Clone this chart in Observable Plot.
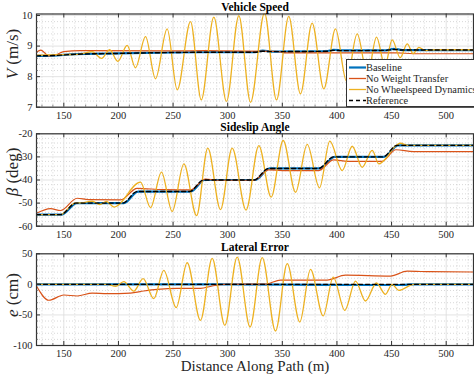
<!DOCTYPE html>
<html><head><meta charset="utf-8">
<script src="https://cdn.jsdelivr.net/npm/d3@7"></script>
<script src="https://cdn.jsdelivr.net/npm/@observablehq/plot@0.6"></script>
<style>
body{margin:0;background:#fff;}
#fig{position:relative;width:474px;height:374px;overflow:hidden;font-family:'Liberation Serif','Times New Roman',Tinos,'DejaVu Serif',serif;color:#262626;}
.panel{position:absolute;left:0;}
.ylab{position:absolute;font-size:17px;white-space:nowrap;transform:translate(-50%,-50%) rotate(-90deg);}
.xlab{position:absolute;font-size:15px;white-space:nowrap;transform:translate(-50%,-50%);}
#legend{position:absolute;left:346px;top:59px;width:140px;height:46px;border:1px solid #333;background:#fff;font-size:10.4px;}
.lrow{position:absolute;left:0;height:11px;line-height:11px;white-space:nowrap;}
.lrow svg{position:absolute;left:2px;top:0;}
.lrow span{position:absolute;left:19px;top:0;}
</style></head><body><div id="fig"></div>
<script>
// ---- shared axis data ----
const xDomain = [125, 525];
const xTicks = [150, 200, 250, 300, 350, 400, 450, 500];
const seriesNames = ["Baseline", "No Weight Transfer", "No Wheelspeed Dynamics", "Reference"];
const seriesColors = ["#0072BD", "#D95319", "#EDB120", "#000000"];
const FONT = "'Liberation Serif','Times New Roman',Tinos,'DejaVu Serif',serif";

// ---- Vehicle Speed (m/s) ----
const speedTicks = [7, 8, 9, 10];
const speedReference = [[125,8.68],[140,8.69],[160,8.73],[200,8.76],[250,8.79],[300,8.80],[325,8.80],[332,8.83],[340,8.82],[390,8.83],[397,8.86],[405,8.85],[445,8.86],[452,8.89],[460,8.87],[525,8.87]];
const speedBaseline = [[125,8.68],[140,8.69],[160,8.74],[200,8.76],[250,8.79],[300,8.80],[325,8.80],[332,8.85],[340,8.82],[390,8.83],[397,8.88],[405,8.86],[445,8.86],[452,8.91],[460,8.87],[525,8.87]];
const speedNoWeightTransfer = [[125,8.80],[129,8.87],[136,8.68],[143,8.72],[150,8.82],[165,8.85],[250,8.84],[280,8.85],[300,8.84],[345,8.83],[352,8.78],[400,8.78],[455,8.78],[470,8.75],[525,8.75]];
const speedNoWheelspeed = [[125,8.70],[150,8.72],[165,8.74],[176,8.82],[184.5,8.60],[192,8.88],[199.4,8.50],[208,9.02],[215.6,8.29],[224.8,9.31],[233.9,7.93],[244.6,9.56],[253.8,7.57],[266,9.80],[275.8,7.24],[287.3,9.95],[298.9,7.19],[310.2,10.0],[320.9,7.16],[333.7,10.08],[344.7,7.24],[355.9,9.97],[366.6,7.44],[377.3,9.75],[388,7.6],[398.7,9.56],[408.8,7.85],[418.5,9.40],[428,8.05],[436.2,9.29],[444,8.35],[450.5,9.20],[458,8.62],[464.3,9.07],[469.8,8.75],[475,8.96],[481,8.85],[490,8.88],[525,8.88]];

// ---- Sideslip Angle (deg) ----
const betaTicks = [-60, -50, -40, -30, -20];
const betaReference = [[125,-55],[147,-55],[161,-50],[204,-50],[217,-45],[265,-45],[278,-40],[324,-40],[337.5,-35],[383,-35],[397,-30],[442,-30],[455,-25],[525,-25]];
const betaBaseline = [[125,-55],[148,-55],[162,-50],[205,-50],[218,-45],[266,-45],[279,-40],[325,-40],[338.5,-35],[384,-35],[398,-30],[443,-30],[456,-25],[525,-25]];
const betaNoWeightTransfer = [[125,-54.4],[137.8,-52.4],[147,-53.2],[162.3,-47.9],[172.5,-48.5],[202,-48.6],[217,-43.6],[241,-44.2],[266,-44.3],[279.7,-39.6],[290,-40.1],[324,-40.1],[337.6,-35.6],[350,-35.9],[383,-35.9],[397,-31.3],[410,-31.9],[441,-31.9],[454,-26.9],[470,-27.7],[525,-27.7]];
const betaNoWheelspeed = [[125,-55],[147,-55],[160,-50],[168,-49.8],[176,-49.2],[183,-50.6],[189,-49.3],[196,-51.7],[220.2,-40.9],[229.4,-52.0],[239.4,-36.6],[249.2,-53.6],[259.9,-33.0],[271.5,-55.4],[281.8,-26.2],[293.4,-52.8],[304.1,-26.2],[316.8,-53.0],[328.5,-25.1],[339.8,-47.4],[350.8,-22.9],[362.1,-45.3],[372.8,-24.6],[384,-43.4],[393.5,-23.2],[404.8,-35.9],[414,-25.4],[423.1,-34.5],[432.3,-27.2],[438.3,-33.0],[446,-30],[452,-26],[458.2,-24.1],[465,-25],[525,-25]];

// ---- Lateral Error (cm) ----
const errTicks = [-100, -50, 0, 50];
const errReference = [[125,0],[525,0]];
const errBaseline = [[125,0],[300,0],[350,-0.3],[420,-1],[460,-1],[470,0],[525,0]];
const errNoWeightTransfer = [[125,-2.7],[136.3,-26],[150,-17.4],[162.3,-19],[176,-14.2],[189.7,-15.3],[211,-14.2],[223.2,-10.9],[235.5,-8.2],[253.8,-6.5],[275.1,-6.5],[285.8,-2.7],[296.4,0],[335,0.5],[348.3,7.1],[391,7.1],[407.8,15.0],[449,13.6],[464.3,21.5],[485.6,20.7],[525,20.2]];
const errNoWheelspeed = [[125,0],[190,0],[197.3,-3.3],[204.9,4.4],[214.1,-10.9],[222.6,9.3],[232.4,-23.4],[241.5,22.9],[252.9,-38.1],[262.9,35.4],[275.1,-58.8],[285.8,42.5],[297.4,-67],[308.7,44.7],[320.5,-69.7],[331.6,43.6],[343.8,-76.3],[354.5,33.8],[366,-61.6],[375.8,24.5],[387.4,-51.7],[396.6,12],[407.2,-42.5],[417,5.4],[426.1,-27.2],[436.2,2.2],[444.4,-16.3],[450.5,0],[456.6,-9.8],[470.3,0],[525,0]];

const fig = document.getElementById("fig");
const W = 474, ML = 36, MR = 1;

function panel({top, height, marginTop, marginBottom, yDomain, yTicks, yMinorStep, series, title}) {
  const plotH = height - marginTop - marginBottom;
  const plotW = W - ML - MR;
  const xMinor = d3.range(130, 525, 10).filter(v => v % 50 !== 0);
  const yMinor = d3.range(yDomain[0], yDomain[1] + 1e-9, yMinorStep).map(v => +v.toFixed(6))
    .filter(v => !yTicks.some(t => Math.abs(t - v) < 1e-6));
  const [base, nwt, nws, ref] = series;
  const ln = (data, stroke, strokeWidth, extra = {}) =>
    Plot.line(data, {x: d => d[0], y: d => d[1], stroke, strokeWidth, curve: "monotone-x", clip: true, ...extra});
  const svg = Plot.plot({
    width: W, height, marginLeft: ML, marginRight: MR, marginTop, marginBottom,
    x: {domain: xDomain}, y: {domain: yDomain},
    style: {fontFamily: FONT, fontSize: "10px", color: "#262626", background: "white"},
    marks: [
      Plot.ruleX(xMinor, {stroke: "#bdbdbd", strokeDasharray: "1,2", strokeWidth: 0.6}),
      Plot.ruleY(yMinor, {stroke: "#bdbdbd", strokeDasharray: "1,2", strokeWidth: 0.6}),
      Plot.ruleX(xTicks, {stroke: "#dcdcdc", strokeWidth: 0.8}),
      Plot.ruleY(yTicks, {stroke: "#dcdcdc", strokeWidth: 0.8}),
      ln(base, seriesColors[0], 2.2),
      ln(nwt, seriesColors[1], 1.2),
      ln(nws, seriesColors[2], 1.3),
      ln(ref, seriesColors[3], 1.4, {strokeDasharray: "4,3"}),
      Plot.frame({stroke: "#333", strokeWidth: 1.2}),
      Plot.ruleX(xTicks, {stroke: "#333", insetTop: plotH - 4}),
      Plot.ruleX(xTicks, {stroke: "#333", insetBottom: plotH - 4}),
      Plot.ruleX(xMinor, {stroke: "#555", strokeWidth: 0.7, insetTop: plotH - 2}),
      Plot.ruleY(yTicks, {stroke: "#333", insetRight: plotW - 4}),
      Plot.ruleY(yMinor, {stroke: "#555", strokeWidth: 0.7, insetRight: plotW - 2}),
      Plot.axisX({ticks: xTicks, tickSize: 0, tickPadding: 4, tickFormat: d => String(d), label: null, fontSize: 10.5}),
      Plot.axisY({ticks: yTicks, tickSize: 0, tickPadding: 4, tickFormat: d => String(d), label: null, fontSize: 10.5}),
      Plot.text([title], {frameAnchor: "top", dy: -3, lineAnchor: "bottom", fontWeight: "bold", fontSize: 11.5, fill: "#000"})
    ]
  });
  svg.classList.add("panel");
  svg.style.top = top + "px";
  fig.appendChild(svg);
}

panel({top: 0, height: 120, marginTop: 13.5, marginBottom: 13.3, yDomain: [7, 10.05], yTicks: speedTicks, yMinorStep: 0.2,
  series: [speedBaseline, speedNoWeightTransfer, speedNoWheelspeed, speedReference], title: "Vehicle Speed"});
panel({top: 120, height: 120, marginTop: 13.3, marginBottom: 14.3, yDomain: [-60, -20], yTicks: betaTicks, yMinorStep: 2,
  series: [betaBaseline, betaNoWeightTransfer, betaNoWheelspeed, betaReference], title: "Sideslip Angle"});
panel({top: 240, height: 134, marginTop: 13.3, marginBottom: 29, yDomain: [-100, 50], yTicks: errTicks, yMinorStep: 10,
  series: [errBaseline, errNoWeightTransfer, errNoWheelspeed, errReference], title: "Lateral Error"});

// axis labels
function addLabel(cls, html, x, y) {
  const d = document.createElement("div");
  d.className = cls; d.innerHTML = html;
  d.style.left = x + "px"; d.style.top = y + "px";
  fig.appendChild(d);
}
addLabel("ylab", "<i>V</i> (m/s)", 13, 54);
addLabel("ylab", "<i>β</i> (deg)", 13, 172);
addLabel("ylab", "<i>e</i> (cm)", 13, 295);
addLabel("xlab", "Distance Along Path (m)", 255, 366);

// legend
const legend = document.createElement("div");
legend.id = "legend";
const rowTops = [2, 13, 24, 34.5];
seriesNames.forEach((name, i) => {
  const r = document.createElement("div");
  r.className = "lrow"; r.style.top = rowTops[i] + "px";
  const dash = i === 3 ? 'stroke-dasharray="4,3"' : "";
  const sw = i === 0 ? 2.2 : (i === 3 ? 1.4 : 1.3);
  r.innerHTML = `<svg width="17" height="11"><line x1="0" x2="17" y1="5.5" y2="5.5" stroke="${seriesColors[i]}" stroke-width="${sw}" ${dash}/></svg><span>${name}</span>`;
  legend.appendChild(r);
});
fig.appendChild(legend);
</script>
</body></html>
